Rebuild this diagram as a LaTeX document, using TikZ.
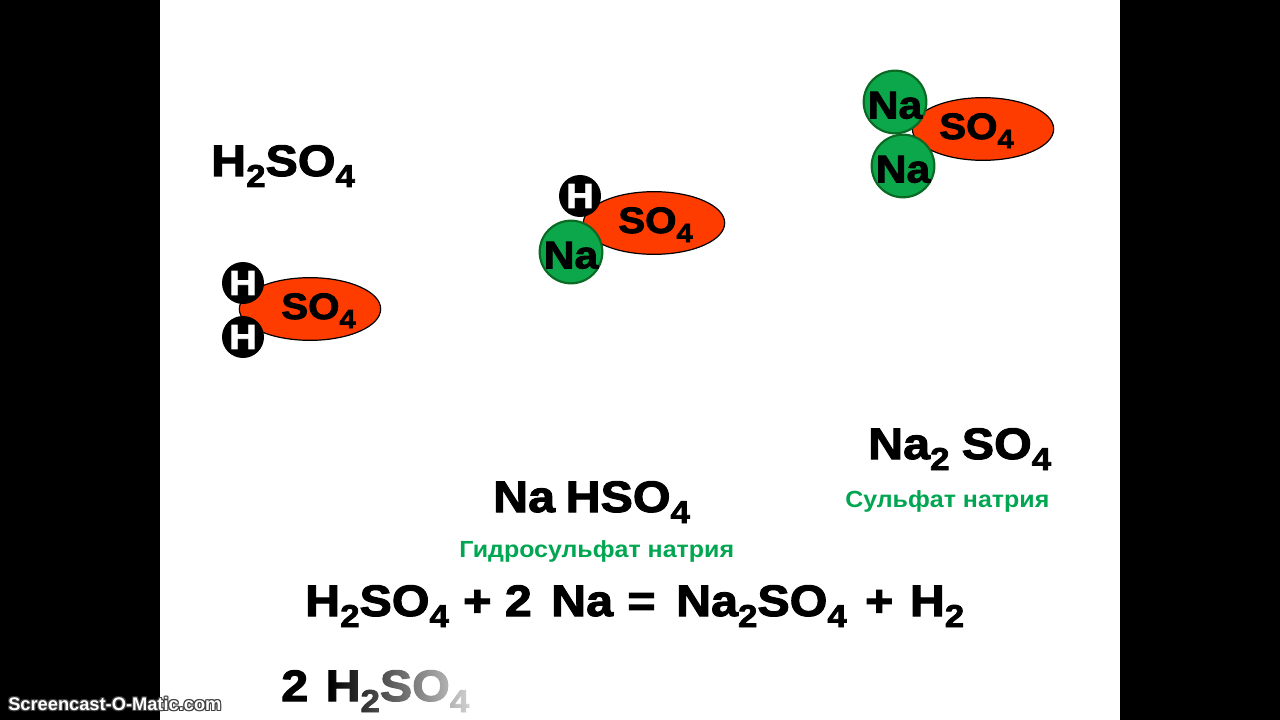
\documentclass[tikz,border=0pt]{standalone}
\usepackage{fontspec}
\setmainfont{Liberation Sans}[BoldFeatures={FakeBold=2.4,FakeStretch=1.10}]
\newfontfamily\plainbold{Liberation Sans Bold}[FakeStretch=1.07]
\newfontfamily\wmbold{Liberation Sans Bold}
\usetikzlibrary{fadings,shapes.geometric}
\definecolor{sored}{RGB}{255,60,0}
\definecolor{nagreen}{RGB}{12,166,75}
\definecolor{nadark}{RGB}{10,105,35}
\definecolor{labgreen}{RGB}{0,166,81}
\newcommand{\fsub}[1]{\raisebox{-0.25em}{\fontsize{0.72em}{1em}\selectfont #1}}
\newcommand{\lsub}[1]{\raisebox{-0.25em}{\fontsize{0.72em}{1em}\selectfont #1}}
\newcommand{\xs}[1]{\hspace{#1em} }
\newcommand{\sinktext}[1]{\raisebox{-2.5pt}[\height][\depth]{#1}}
\tikzset{
  x=0.75pt,y=-0.75pt,
  formula/.style={inner sep=0pt,anchor=base west,font=\fontsize{33pt}{36pt}\selectfont\bfseries},
  namelabel/.style={inner sep=0pt,anchor=base west,text=labgreen,font=\fontsize{17.5pt}{20pt}\plainbold},
  soblob/.style={ellipse,draw=black,line width=0.9pt,fill=sored,minimum width=106pt,minimum height=47pt},
  sotext/.style={inner sep=0pt,anchor=base west,font=\fontsize{27.5pt}{30pt}\selectfont\bfseries},
  hatom/.style={circle,fill=black,text=white,inner sep=0pt,minimum size=31.5pt,font=\fontsize{26pt}{28pt}\selectfont\bfseries},
  naatom/.style={circle,fill=nagreen,draw=nadark,line width=1.6pt,text=black,inner sep=0pt,minimum size=47pt,font=\fontsize{29pt}{30pt}\selectfont\bfseries},
  wm/.style={inner sep=0pt,anchor=base west,text=white,font=\fontsize{13.7pt}{16pt}\wmbold},
  wmglow/.style={wm,text=black!75},
}
\begin{document}
\begin{tikzpicture}
\useasboundingbox (0,0) rectangle (1280,720);
\fill[white] (0,0) rectangle (1280,720);
\fill[black] (0,0) rectangle (160,720);
\fill[black] (1120,0) rectangle (1280,720);

\node[formula] (f1) at (211,176) {H\fsub{2}SO\fsub{4}};

% H2SO4 particle
\node[soblob] (e1) at (310,309) {};
\node[sotext] (t1) at (281,319) {SO\lsub{4}};
\node[hatom] (h1) at (243,283) {H};
\node[hatom] (h2) at (243,337) {H};

% NaHSO4 particle
\node[soblob] (e2) at (654,223) {};
\node[sotext] (t2) at (618,233) {SO\lsub{4}};
\node[hatom] (h3) at (580,196) {H};
\node[naatom] (n1) at (571,252) {\sinktext{Na}};

% Na2SO4 particle
\node[soblob] (e3) at (983,129) {};
\node[sotext] (t3) at (939,139) {SO\lsub{4}};
\node[naatom] (n2) at (895,102) {\sinktext{Na}};
\node[naatom] (n3) at (903,166) {\sinktext{Na}};

\node[formula] (f2) at (868,459) {Na\fsub{2}\hspace{0.28em}SO\fsub{4}};
\node[namelabel] (l2) at (845,507) {Сульфат натрия};
\node[formula] (f3) at (493,512) {Na\hspace{0.24em}HSO\fsub{4}};
\node[namelabel] (l3) at (459,557) {Гидросульфат натрия};
\node[formula] (f4) at (305,616) {H\fsub{2}SO\fsub{4}\xs{0.02}+\xs{0}2\xs{0.135}Na\xs{0.02}=\xs{0.16}Na\fsub{2}SO\fsub{4}\xs{0.11}+\xs{0.07}H\fsub{2}};
\node[formula] (f5) at (281,701) {2\xs{0.09}H\fsub{2}SO\fsub{4}};
\fill[white,path fading=west] (330,660) rectangle (500,716);

\foreach \i/\dx/\dy in {1/-1/0,2/1/0,3/0/-1,4/0/1,5/-1/-1,6/1/1,7/1/-1,8/-1/1}
  \node[wmglow] (wg\i) at (8+\dx,710+\dy) {Screencast-O-Matic.com};
\node[wm] (w) at (8,710) {Screencast-O-Matic.com};
\end{tikzpicture}
\end{document}
